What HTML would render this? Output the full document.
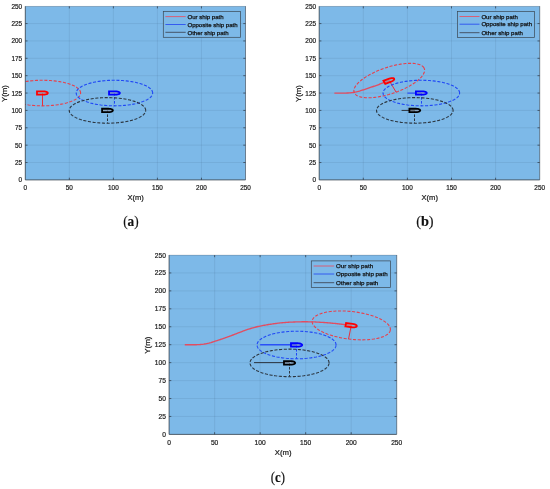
<!DOCTYPE html>
<html><head><meta charset="utf-8"><title>Ship paths</title>
<style>
html,body{margin:0;padding:0;background:#fff}
svg{display:block}
.grid{stroke:#2d4a66;stroke-opacity:.18;stroke-width:.6}
.tick{stroke:#2a3440;stroke-width:.7}
.bd{stroke:#303c48;stroke-width:.8}
.bdt{stroke:#5a6a78;stroke-width:.6;stroke-opacity:.6}
.bdr{stroke:#2a3440;stroke-width:.7;stroke-opacity:.8}
.tl{font-family:"Liberation Sans",sans-serif;font-size:6.3px;fill:#1a1a1a;stroke:#1a1a1a;stroke-width:.2}
.al{font-family:"Liberation Sans",sans-serif;font-size:7.6px;fill:#1a1a1a;stroke:#1a1a1a;stroke-width:.22}
.lg{font-family:"Liberation Sans",sans-serif;fill:#111;stroke:#111;stroke-width:.25}
.cap{font-family:"Liberation Serif",serif;font-size:13.3px;fill:#111;stroke:#111;stroke-width:.15}
</style></head><body>
<svg width="550" height="489" viewBox="0 0 550 489">
<rect width="550" height="489" fill="#fff"/>
<rect x="25.30" y="6.20" width="220.20" height="173.70" fill="#7db9e8"/>
<line x1="25.30" y1="162.53" x2="245.50" y2="162.53" class="grid"/>
<line x1="69.34" y1="6.20" x2="69.34" y2="179.90" class="grid"/>
<line x1="25.30" y1="145.16" x2="245.50" y2="145.16" class="grid"/>
<line x1="25.30" y1="127.79" x2="245.50" y2="127.79" class="grid"/>
<line x1="113.38" y1="6.20" x2="113.38" y2="179.90" class="grid"/>
<line x1="25.30" y1="110.42" x2="245.50" y2="110.42" class="grid"/>
<line x1="25.30" y1="93.05" x2="245.50" y2="93.05" class="grid"/>
<line x1="157.42" y1="6.20" x2="157.42" y2="179.90" class="grid"/>
<line x1="25.30" y1="75.68" x2="245.50" y2="75.68" class="grid"/>
<line x1="25.30" y1="58.31" x2="245.50" y2="58.31" class="grid"/>
<line x1="201.46" y1="6.20" x2="201.46" y2="179.90" class="grid"/>
<line x1="25.30" y1="40.94" x2="245.50" y2="40.94" class="grid"/>
<line x1="25.30" y1="23.57" x2="245.50" y2="23.57" class="grid"/>
<text x="22.10" y="182.40" class="tl" style="font-size:6.4px" text-anchor="end">0</text>
<line x1="25.30" y1="162.53" x2="27.50" y2="162.53" class="tick"/>
<line x1="245.50" y1="162.53" x2="243.30" y2="162.53" class="tick"/>
<text x="22.10" y="165.03" class="tl" style="font-size:6.4px" text-anchor="end">25</text>
<line x1="25.30" y1="145.16" x2="27.50" y2="145.16" class="tick"/>
<line x1="245.50" y1="145.16" x2="243.30" y2="145.16" class="tick"/>
<text x="22.10" y="147.66" class="tl" style="font-size:6.4px" text-anchor="end">50</text>
<line x1="25.30" y1="127.79" x2="27.50" y2="127.79" class="tick"/>
<line x1="245.50" y1="127.79" x2="243.30" y2="127.79" class="tick"/>
<text x="22.10" y="130.29" class="tl" style="font-size:6.4px" text-anchor="end">75</text>
<line x1="25.30" y1="110.42" x2="27.50" y2="110.42" class="tick"/>
<line x1="245.50" y1="110.42" x2="243.30" y2="110.42" class="tick"/>
<text x="22.10" y="112.92" class="tl" style="font-size:6.4px" text-anchor="end">100</text>
<line x1="25.30" y1="93.05" x2="27.50" y2="93.05" class="tick"/>
<line x1="245.50" y1="93.05" x2="243.30" y2="93.05" class="tick"/>
<text x="22.10" y="95.55" class="tl" style="font-size:6.4px" text-anchor="end">125</text>
<line x1="25.30" y1="75.68" x2="27.50" y2="75.68" class="tick"/>
<line x1="245.50" y1="75.68" x2="243.30" y2="75.68" class="tick"/>
<text x="22.10" y="78.18" class="tl" style="font-size:6.4px" text-anchor="end">150</text>
<line x1="25.30" y1="58.31" x2="27.50" y2="58.31" class="tick"/>
<line x1="245.50" y1="58.31" x2="243.30" y2="58.31" class="tick"/>
<text x="22.10" y="60.81" class="tl" style="font-size:6.4px" text-anchor="end">175</text>
<line x1="25.30" y1="40.94" x2="27.50" y2="40.94" class="tick"/>
<line x1="245.50" y1="40.94" x2="243.30" y2="40.94" class="tick"/>
<text x="22.10" y="43.44" class="tl" style="font-size:6.4px" text-anchor="end">200</text>
<line x1="25.30" y1="23.57" x2="27.50" y2="23.57" class="tick"/>
<line x1="245.50" y1="23.57" x2="243.30" y2="23.57" class="tick"/>
<text x="22.10" y="26.07" class="tl" style="font-size:6.4px" text-anchor="end">225</text>
<text x="22.10" y="8.70" class="tl" style="font-size:6.4px" text-anchor="end">250</text>
<text x="25.30" y="190.20" class="tl" style="font-size:6.4px" text-anchor="middle">0</text>
<line x1="69.34" y1="179.90" x2="69.34" y2="177.70" class="tick"/>
<line x1="69.34" y1="6.20" x2="69.34" y2="8.40" class="tick"/>
<text x="69.34" y="190.20" class="tl" style="font-size:6.4px" text-anchor="middle">50</text>
<line x1="113.38" y1="179.90" x2="113.38" y2="177.70" class="tick"/>
<line x1="113.38" y1="6.20" x2="113.38" y2="8.40" class="tick"/>
<text x="113.38" y="190.20" class="tl" style="font-size:6.4px" text-anchor="middle">100</text>
<line x1="157.42" y1="179.90" x2="157.42" y2="177.70" class="tick"/>
<line x1="157.42" y1="6.20" x2="157.42" y2="8.40" class="tick"/>
<text x="157.42" y="190.20" class="tl" style="font-size:6.4px" text-anchor="middle">150</text>
<line x1="201.46" y1="179.90" x2="201.46" y2="177.70" class="tick"/>
<line x1="201.46" y1="6.20" x2="201.46" y2="8.40" class="tick"/>
<text x="201.46" y="190.20" class="tl" style="font-size:6.4px" text-anchor="middle">200</text>
<text x="245.50" y="190.20" class="tl" style="font-size:6.4px" text-anchor="middle">250</text>
<clipPath id="ca"><rect x="25.30" y="6.20" width="220.20" height="173.70"/></clipPath>
<g clip-path="url(#ca)">
<path d="M80.61,93.05 L80.56,92.38 L80.40,91.71 L80.14,91.05 L79.78,90.39 L79.31,89.74 L78.74,89.10 L78.08,88.47 L77.31,87.85 L76.45,87.25 L75.49,86.66 L74.45,86.09 L73.31,85.54 L72.10,85.00 L70.80,84.50 L69.42,84.01 L67.97,83.55 L66.44,83.11 L64.86,82.71 L63.21,82.33 L61.50,81.98 L59.74,81.66 L57.94,81.37 L56.09,81.11 L54.20,80.89 L52.28,80.70 L50.34,80.55 L48.37,80.42 L46.38,80.34 L44.39,80.28 L42.39,80.27 L40.39,80.28 L38.39,80.34 L36.41,80.42 L34.44,80.55 L32.49,80.70 L30.57,80.89 L28.69,81.11 L26.84,81.37 L25.03,81.66 L23.27,81.98 L21.57,82.33 L19.92,82.71 L18.33,83.11 L16.81,83.55 L15.36,84.01 L13.98,84.50 L12.68,85.00 L11.46,85.54 L10.33,86.09 L9.28,86.66 L8.33,87.25 L7.47,87.85 L6.70,88.47 L6.03,89.10 L5.46,89.74 L5.00,90.39 L4.63,91.05 L4.37,91.71 L4.21,92.38 L4.16,93.05 L4.21,93.72 L4.37,94.39 L4.63,95.05 L5.00,95.71 L5.46,96.36 L6.03,97.00 L6.70,97.63 L7.47,98.25 L8.33,98.85 L9.28,99.44 L10.33,100.01 L11.46,100.56 L12.68,101.10 L13.98,101.60 L15.36,102.09 L16.81,102.55 L18.33,102.99 L19.92,103.39 L21.57,103.77 L23.27,104.12 L25.03,104.44 L26.84,104.73 L28.69,104.99 L30.57,105.21 L32.49,105.40 L34.44,105.55 L36.41,105.68 L38.39,105.76 L40.39,105.82 L42.39,105.83 L44.39,105.82 L46.38,105.76 L48.37,105.68 L50.34,105.55 L52.28,105.40 L54.20,105.21 L56.09,104.99 L57.94,104.73 L59.74,104.44 L61.50,104.12 L63.21,103.77 L64.86,103.39 L66.44,102.99 L67.97,102.55 L69.42,102.09 L70.80,101.60 L72.10,101.10 L73.31,100.56 L74.45,100.01 L75.49,99.44 L76.45,98.85 L77.31,98.25 L78.08,97.63 L78.74,97.00 L79.31,96.36 L79.78,95.71 L80.14,95.05 L80.40,94.39 L80.56,93.72 L80.61,93.05" fill="none" stroke="#e6404c" stroke-width="1.1" stroke-dasharray="3.1 1.6"/>
<line x1="42.50" y1="93.05" x2="42.50" y2="105.83" stroke="#e8303a" stroke-width="1.0"/>
<path d="M36.99,94.72 L43.47,94.72 L43.47,94.72 L44.59,94.66 L45.63,94.49 L46.52,94.23 L47.21,93.88 L47.64,93.48 L47.79,93.05 L47.64,92.62 L47.21,92.22 L46.52,91.87 L45.63,91.61 L44.59,91.44 L43.47,91.38 L36.99,91.38Z" fill="#9aa4b4" fill-opacity="0.55" stroke="#ff0000" stroke-width="1.8" stroke-linejoin="miter"/>
<path d="M152.66,93.05 L152.61,92.38 L152.45,91.71 L152.19,91.05 L151.83,90.39 L151.36,89.74 L150.79,89.10 L150.12,88.47 L149.36,87.85 L148.50,87.25 L147.54,86.66 L146.50,86.09 L145.36,85.54 L144.14,85.00 L142.84,84.50 L141.47,84.01 L140.02,83.55 L138.49,83.11 L136.91,82.71 L135.26,82.33 L133.55,81.98 L131.79,81.66 L129.99,81.37 L128.14,81.11 L126.25,80.89 L124.33,80.70 L122.38,80.55 L120.42,80.42 L118.43,80.34 L116.44,80.28 L114.44,80.27 L112.44,80.28 L110.44,80.34 L108.46,80.42 L106.49,80.55 L104.54,80.70 L102.62,80.89 L100.74,81.11 L98.89,81.37 L97.08,81.66 L95.32,81.98 L93.62,82.33 L91.97,82.71 L90.38,83.11 L88.86,83.55 L87.41,84.01 L86.03,84.50 L84.73,85.00 L83.51,85.54 L82.38,86.09 L81.33,86.66 L80.38,87.25 L79.52,87.85 L78.75,88.47 L78.08,89.10 L77.51,89.74 L77.05,90.39 L76.68,91.05 L76.42,91.71 L76.26,92.38 L76.21,93.05 L76.26,93.72 L76.42,94.39 L76.68,95.05 L77.05,95.71 L77.51,96.36 L78.08,97.00 L78.75,97.63 L79.52,98.25 L80.38,98.85 L81.33,99.44 L82.38,100.01 L83.51,100.56 L84.73,101.10 L86.03,101.60 L87.41,102.09 L88.86,102.55 L90.38,102.99 L91.97,103.39 L93.62,103.77 L95.32,104.12 L97.08,104.44 L98.89,104.73 L100.74,104.99 L102.62,105.21 L104.54,105.40 L106.49,105.55 L108.46,105.68 L110.44,105.76 L112.44,105.82 L114.44,105.83 L116.44,105.82 L118.43,105.76 L120.42,105.68 L122.38,105.55 L124.33,105.40 L126.25,105.21 L128.14,104.99 L129.99,104.73 L131.79,104.44 L133.55,104.12 L135.26,103.77 L136.91,103.39 L138.49,102.99 L140.02,102.55 L141.47,102.09 L142.84,101.60 L144.14,101.10 L145.36,100.56 L146.50,100.01 L147.54,99.44 L148.50,98.85 L149.36,98.25 L150.12,97.63 L150.79,97.00 L151.36,96.36 L151.83,95.71 L152.19,95.05 L152.45,94.39 L152.61,93.72 L152.66,93.05" fill="none" stroke="#2048f5" stroke-width="1.1" stroke-dasharray="3.1 1.6"/>
<line x1="114.50" y1="93.05" x2="114.50" y2="105.83" stroke="#2048f5" stroke-width="1.0" stroke-dasharray="2.6 1.4"/>
<path d="M109.04,94.72 L115.52,94.72 L115.52,94.72 L116.63,94.66 L117.68,94.49 L118.57,94.23 L119.26,93.88 L119.69,93.48 L119.84,93.05 L119.69,92.62 L119.26,92.22 L118.57,91.87 L117.68,91.61 L116.63,91.44 L115.52,91.38 L109.04,91.38Z" fill="#9aa4b4" fill-opacity="0.55" stroke="#0000ff" stroke-width="1.8" stroke-linejoin="miter"/>
<path d="M145.71,110.42 L145.65,109.75 L145.50,109.08 L145.23,108.42 L144.87,107.76 L144.40,107.11 L143.83,106.47 L143.17,105.84 L142.40,105.22 L141.54,104.62 L140.58,104.03 L139.54,103.46 L138.40,102.91 L137.19,102.37 L135.89,101.87 L134.51,101.38 L133.06,100.92 L131.54,100.48 L129.95,100.08 L128.30,99.70 L126.59,99.35 L124.83,99.03 L123.03,98.74 L121.18,98.48 L119.29,98.26 L117.37,98.07 L115.43,97.92 L113.46,97.79 L111.47,97.71 L109.48,97.65 L107.48,97.64 L105.48,97.65 L103.48,97.71 L101.50,97.79 L99.53,97.92 L97.58,98.07 L95.67,98.26 L93.78,98.48 L91.93,98.74 L90.12,99.03 L88.37,99.35 L86.66,99.70 L85.01,100.08 L83.42,100.48 L81.90,100.92 L80.45,101.38 L79.07,101.87 L77.77,102.37 L76.55,102.91 L75.42,103.46 L74.37,104.03 L73.42,104.62 L72.56,105.22 L71.79,105.84 L71.12,106.47 L70.55,107.11 L70.09,107.76 L69.72,108.42 L69.46,109.08 L69.30,109.75 L69.25,110.42 L69.30,111.09 L69.46,111.76 L69.72,112.42 L70.09,113.08 L70.55,113.73 L71.12,114.37 L71.79,115.00 L72.56,115.62 L73.42,116.22 L74.37,116.81 L75.42,117.38 L76.55,117.93 L77.77,118.47 L79.07,118.97 L80.45,119.46 L81.90,119.92 L83.42,120.36 L85.01,120.76 L86.66,121.14 L88.37,121.49 L90.12,121.81 L91.93,122.10 L93.78,122.36 L95.67,122.58 L97.58,122.77 L99.53,122.92 L101.50,123.05 L103.48,123.13 L105.48,123.19 L107.48,123.20 L109.48,123.19 L111.47,123.13 L113.46,123.05 L115.43,122.92 L117.37,122.77 L119.29,122.58 L121.18,122.36 L123.03,122.10 L124.83,121.81 L126.59,121.49 L128.30,121.14 L129.95,120.76 L131.54,120.36 L133.06,119.92 L134.51,119.46 L135.89,118.97 L137.19,118.47 L138.40,117.93 L139.54,117.38 L140.58,116.81 L141.54,116.22 L142.40,115.62 L143.17,115.00 L143.83,114.37 L144.40,113.73 L144.87,113.08 L145.23,112.42 L145.50,111.76 L145.65,111.09 L145.71,110.42" fill="none" stroke="#2c3640" stroke-width="1.1" stroke-dasharray="3.1 1.6"/>
<line x1="107.50" y1="110.42" x2="107.50" y2="123.20" stroke="#2c3640" stroke-width="1.0" stroke-dasharray="2.6 1.4"/>
<path d="M102.08,112.09 L108.56,112.09 L108.56,112.09 L109.68,112.03 L110.72,111.86 L111.61,111.60 L112.30,111.25 L112.73,110.85 L112.88,110.42 L112.73,109.99 L112.30,109.59 L111.61,109.24 L110.72,108.98 L109.68,108.81 L108.56,108.75 L102.08,108.75Z" fill="#9aa4b4" fill-opacity="0.55" stroke="#000000" stroke-width="1.8" stroke-linejoin="miter"/>
</g>
<path d="M25.30,6.20 V179.90 H245.50" fill="none" class="bd"/>
<path d="M25.30,6.45 H245.50" fill="none" class="bdt"/>
<path d="M245.50,6.20 V179.90" fill="none" class="bdr"/>
<rect x="163.30" y="11.60" width="77.20" height="25.70" fill="#7db9e8" stroke="#3a4652" stroke-width="0.7"/>
<line x1="165.40" y1="16.60" x2="185.70" y2="16.60" stroke="#e0566a" stroke-width="0.9"/>
<text x="187.50" y="18.80" class="lg" style="font-size:6.0px">Our ship path</text>
<line x1="165.40" y1="24.50" x2="185.70" y2="24.50" stroke="#2b50f0" stroke-width="0.9"/>
<text x="187.50" y="26.70" class="lg" style="font-size:6.0px">Opposite ship path</text>
<line x1="165.40" y1="32.30" x2="185.70" y2="32.30" stroke="#3f4a58" stroke-width="0.9"/>
<text x="187.50" y="34.50" class="lg" style="font-size:6.0px">Other ship path</text>
<text transform="translate(135.70,199.80) scale(0.97,1)" class="al" style="font-size:7.8px" text-anchor="middle">X(m)</text>
<text transform="translate(6.90,93.55) rotate(-90)" class="al" style="font-size:7.8px" text-anchor="middle">Y(m)</text>
<text transform="translate(130.90,226.20) scale(0.9493,1)" class="cap" style="font-size:14px" text-anchor="middle">(<tspan font-weight="bold">a</tspan>)</text>
<rect x="319.20" y="6.20" width="220.50" height="173.70" fill="#7db9e8"/>
<line x1="319.20" y1="162.53" x2="539.70" y2="162.53" class="grid"/>
<line x1="363.30" y1="6.20" x2="363.30" y2="179.90" class="grid"/>
<line x1="319.20" y1="145.16" x2="539.70" y2="145.16" class="grid"/>
<line x1="319.20" y1="127.79" x2="539.70" y2="127.79" class="grid"/>
<line x1="407.40" y1="6.20" x2="407.40" y2="179.90" class="grid"/>
<line x1="319.20" y1="110.42" x2="539.70" y2="110.42" class="grid"/>
<line x1="319.20" y1="93.05" x2="539.70" y2="93.05" class="grid"/>
<line x1="451.50" y1="6.20" x2="451.50" y2="179.90" class="grid"/>
<line x1="319.20" y1="75.68" x2="539.70" y2="75.68" class="grid"/>
<line x1="319.20" y1="58.31" x2="539.70" y2="58.31" class="grid"/>
<line x1="495.60" y1="6.20" x2="495.60" y2="179.90" class="grid"/>
<line x1="319.20" y1="40.94" x2="539.70" y2="40.94" class="grid"/>
<line x1="319.20" y1="23.57" x2="539.70" y2="23.57" class="grid"/>
<text x="316.00" y="182.40" class="tl" style="font-size:6.4px" text-anchor="end">0</text>
<line x1="319.20" y1="162.53" x2="321.40" y2="162.53" class="tick"/>
<line x1="539.70" y1="162.53" x2="537.50" y2="162.53" class="tick"/>
<text x="316.00" y="165.03" class="tl" style="font-size:6.4px" text-anchor="end">25</text>
<line x1="319.20" y1="145.16" x2="321.40" y2="145.16" class="tick"/>
<line x1="539.70" y1="145.16" x2="537.50" y2="145.16" class="tick"/>
<text x="316.00" y="147.66" class="tl" style="font-size:6.4px" text-anchor="end">50</text>
<line x1="319.20" y1="127.79" x2="321.40" y2="127.79" class="tick"/>
<line x1="539.70" y1="127.79" x2="537.50" y2="127.79" class="tick"/>
<text x="316.00" y="130.29" class="tl" style="font-size:6.4px" text-anchor="end">75</text>
<line x1="319.20" y1="110.42" x2="321.40" y2="110.42" class="tick"/>
<line x1="539.70" y1="110.42" x2="537.50" y2="110.42" class="tick"/>
<text x="316.00" y="112.92" class="tl" style="font-size:6.4px" text-anchor="end">100</text>
<line x1="319.20" y1="93.05" x2="321.40" y2="93.05" class="tick"/>
<line x1="539.70" y1="93.05" x2="537.50" y2="93.05" class="tick"/>
<text x="316.00" y="95.55" class="tl" style="font-size:6.4px" text-anchor="end">125</text>
<line x1="319.20" y1="75.68" x2="321.40" y2="75.68" class="tick"/>
<line x1="539.70" y1="75.68" x2="537.50" y2="75.68" class="tick"/>
<text x="316.00" y="78.18" class="tl" style="font-size:6.4px" text-anchor="end">150</text>
<line x1="319.20" y1="58.31" x2="321.40" y2="58.31" class="tick"/>
<line x1="539.70" y1="58.31" x2="537.50" y2="58.31" class="tick"/>
<text x="316.00" y="60.81" class="tl" style="font-size:6.4px" text-anchor="end">175</text>
<line x1="319.20" y1="40.94" x2="321.40" y2="40.94" class="tick"/>
<line x1="539.70" y1="40.94" x2="537.50" y2="40.94" class="tick"/>
<text x="316.00" y="43.44" class="tl" style="font-size:6.4px" text-anchor="end">200</text>
<line x1="319.20" y1="23.57" x2="321.40" y2="23.57" class="tick"/>
<line x1="539.70" y1="23.57" x2="537.50" y2="23.57" class="tick"/>
<text x="316.00" y="26.07" class="tl" style="font-size:6.4px" text-anchor="end">225</text>
<text x="316.00" y="8.70" class="tl" style="font-size:6.4px" text-anchor="end">250</text>
<text x="319.20" y="190.20" class="tl" style="font-size:6.4px" text-anchor="middle">0</text>
<line x1="363.30" y1="179.90" x2="363.30" y2="177.70" class="tick"/>
<line x1="363.30" y1="6.20" x2="363.30" y2="8.40" class="tick"/>
<text x="363.30" y="190.20" class="tl" style="font-size:6.4px" text-anchor="middle">50</text>
<line x1="407.40" y1="179.90" x2="407.40" y2="177.70" class="tick"/>
<line x1="407.40" y1="6.20" x2="407.40" y2="8.40" class="tick"/>
<text x="407.40" y="190.20" class="tl" style="font-size:6.4px" text-anchor="middle">100</text>
<line x1="451.50" y1="179.90" x2="451.50" y2="177.70" class="tick"/>
<line x1="451.50" y1="6.20" x2="451.50" y2="8.40" class="tick"/>
<text x="451.50" y="190.20" class="tl" style="font-size:6.4px" text-anchor="middle">150</text>
<line x1="495.60" y1="179.90" x2="495.60" y2="177.70" class="tick"/>
<line x1="495.60" y1="6.20" x2="495.60" y2="8.40" class="tick"/>
<text x="495.60" y="190.20" class="tl" style="font-size:6.4px" text-anchor="middle">200</text>
<text x="539.70" y="190.20" class="tl" style="font-size:6.4px" text-anchor="middle">250</text>
<clipPath id="cb"><rect x="319.20" y="6.20" width="220.50" height="173.70"/></clipPath>
<g clip-path="url(#cb)">
<path d="M334.37,93.05 L335.06,93.05 L335.76,93.05 L336.45,93.05 L337.15,93.05 L337.84,93.05 L338.54,93.05 L339.23,93.05 L339.93,93.05 L340.62,93.05 L341.31,93.05 L342.01,93.05 L342.70,93.05 L343.40,93.05 L344.09,93.05 L344.79,93.05 L345.48,93.05 L346.18,93.05 L346.87,93.03 L347.56,93.01 L348.26,92.98 L348.95,92.94 L349.65,92.89 L350.34,92.82 L351.04,92.75 L351.73,92.67 L352.43,92.57 L353.12,92.47 L353.81,92.36 L354.51,92.23 L355.20,92.10 L355.90,91.96 L356.59,91.80 L357.29,91.64 L357.98,91.47 L358.68,91.28 L359.37,91.09 L360.06,90.89 L360.76,90.67 L361.45,90.45 L362.15,90.23 L362.84,90.00 L363.54,89.77 L364.23,89.53 L364.93,89.30 L365.62,89.07 L366.31,88.84 L367.01,88.62 L367.70,88.39 L368.40,88.16 L369.09,87.93 L369.79,87.69 L370.48,87.46 L371.18,87.22 L371.87,86.98 L372.56,86.74 L373.26,86.50 L373.95,86.26 L374.65,86.02 L375.34,85.77 L376.04,85.52 L376.73,85.27 L377.43,85.02 L378.12,84.77 L378.81,84.51 L379.51,84.25 L380.20,83.98 L380.90,83.72 L381.59,83.45 L382.29,83.18 L382.98,82.91 L383.68,82.65 L384.37,82.38 L385.06,82.11 L385.76,81.85 L386.45,81.58 L387.15,81.31 L387.84,81.04 L388.54,80.76 L389.23,80.49" fill="none" stroke="#e24c60" stroke-width="1.35"/>
<path d="M407.40,93.05 L420.98,93.05" fill="none" stroke="#2b50f8" stroke-width="1.3"/>
<path d="M401.58,110.42 L414.81,110.42" fill="none" stroke="#2a323c" stroke-width="1.0"/>
<path d="M423.92,67.80 L423.52,67.21 L423.02,66.66 L422.42,66.14 L421.74,65.67 L420.97,65.24 L420.11,64.84 L419.16,64.49 L418.13,64.19 L417.03,63.93 L415.85,63.71 L414.59,63.55 L413.27,63.42 L411.88,63.35 L410.42,63.32 L408.91,63.34 L407.35,63.41 L405.73,63.52 L404.07,63.68 L402.37,63.89 L400.64,64.14 L398.87,64.43 L397.08,64.78 L395.26,65.16 L393.43,65.59 L391.58,66.05 L389.74,66.56 L387.88,67.11 L386.04,67.69 L384.20,68.31 L382.37,68.96 L380.57,69.64 L378.78,70.35 L377.03,71.09 L375.31,71.86 L373.63,72.65 L371.99,73.46 L370.40,74.29 L368.85,75.14 L367.37,76.01 L365.94,76.88 L364.58,77.77 L363.29,78.66 L362.07,79.56 L360.92,80.46 L359.85,81.36 L358.86,82.26 L357.95,83.16 L357.13,84.04 L356.40,84.92 L355.76,85.79 L355.21,86.64 L354.75,87.47 L354.38,88.29 L354.12,89.08 L353.95,89.85 L353.87,90.60 L353.89,91.32 L354.01,92.01 L354.23,92.66 L354.54,93.29 L354.94,93.88 L355.45,94.43 L356.04,94.94 L356.72,95.42 L357.50,95.85 L358.36,96.24 L359.30,96.59 L360.33,96.90 L361.43,97.16 L362.62,97.37 L363.87,97.54 L365.20,97.66 L366.59,97.74 L368.04,97.77 L369.55,97.75 L371.11,97.68 L372.73,97.57 L374.39,97.41 L376.09,97.20 L377.82,96.95 L379.59,96.65 L381.39,96.31 L383.20,95.93 L385.03,95.50 L386.88,95.03 L388.73,94.53 L390.58,93.98 L392.43,93.40 L394.26,92.78 L396.09,92.13 L397.90,91.45 L399.68,90.73 L401.43,89.99 L403.15,89.23 L404.83,88.44 L406.47,87.63 L408.07,86.79 L409.61,85.95 L411.09,85.08 L412.52,84.21 L413.88,83.32 L415.17,82.43 L416.39,81.53 L417.54,80.63 L418.61,79.73 L419.60,78.83 L420.51,77.93 L421.33,77.04 L422.06,76.17 L422.70,75.30 L423.26,74.45 L423.71,73.61 L424.08,72.80 L424.34,72.00 L424.52,71.23 L424.59,70.49 L424.57,69.77 L424.45,69.08 L424.23,68.42 L423.92,67.80" fill="none" stroke="#e6404c" stroke-width="1.1" stroke-dasharray="3.1 1.6"/>
<line x1="389.23" y1="80.54" x2="396.09" y2="92.13" stroke="#e8303a" stroke-width="1.0"/>
<path d="M385.23,83.85 L391.11,81.69 L391.11,81.69 L392.09,81.27 L392.95,80.77 L393.62,80.23 L394.05,79.69 L394.23,79.18 L394.13,78.74 L393.77,78.40 L393.16,78.18 L392.35,78.10 L391.40,78.15 L390.36,78.35 L389.32,78.67 L383.44,80.83Z" fill="#9aa4b4" fill-opacity="0.55" stroke="#ff0000" stroke-width="1.8" stroke-linejoin="miter"/>
<path d="M459.61,93.05 L459.56,92.38 L459.40,91.71 L459.14,91.05 L458.78,90.39 L458.31,89.74 L457.74,89.10 L457.07,88.47 L456.31,87.85 L455.44,87.25 L454.49,86.66 L453.44,86.09 L452.30,85.54 L451.08,85.00 L449.78,84.50 L448.40,84.01 L446.95,83.55 L445.43,83.11 L443.84,82.71 L442.18,82.33 L440.48,81.98 L438.71,81.66 L436.90,81.37 L435.05,81.11 L433.16,80.89 L431.24,80.70 L429.29,80.55 L427.32,80.42 L425.34,80.34 L423.34,80.28 L421.34,80.27 L419.33,80.28 L417.33,80.34 L415.35,80.42 L413.38,80.55 L411.43,80.70 L409.51,80.89 L407.62,81.11 L405.77,81.37 L403.96,81.66 L402.20,81.98 L400.49,82.33 L398.84,82.71 L397.25,83.11 L395.72,83.55 L394.27,84.01 L392.89,84.50 L391.59,85.00 L390.37,85.54 L389.23,86.09 L388.19,86.66 L387.23,87.25 L386.37,87.85 L385.60,88.47 L384.93,89.10 L384.36,89.74 L383.89,90.39 L383.53,91.05 L383.27,91.71 L383.11,92.38 L383.06,93.05 L383.11,93.72 L383.27,94.39 L383.53,95.05 L383.89,95.71 L384.36,96.36 L384.93,97.00 L385.60,97.63 L386.37,98.25 L387.23,98.85 L388.19,99.44 L389.23,100.01 L390.37,100.56 L391.59,101.10 L392.89,101.60 L394.27,102.09 L395.72,102.55 L397.25,102.99 L398.84,103.39 L400.49,103.77 L402.20,104.12 L403.96,104.44 L405.77,104.73 L407.62,104.99 L409.51,105.21 L411.43,105.40 L413.38,105.55 L415.35,105.68 L417.33,105.76 L419.33,105.82 L421.34,105.83 L423.34,105.82 L425.34,105.76 L427.32,105.68 L429.29,105.55 L431.24,105.40 L433.16,105.21 L435.05,104.99 L436.90,104.73 L438.71,104.44 L440.48,104.12 L442.18,103.77 L443.84,103.39 L445.43,102.99 L446.95,102.55 L448.40,102.09 L449.78,101.60 L451.08,101.10 L452.30,100.56 L453.44,100.01 L454.49,99.44 L455.44,98.85 L456.31,98.25 L457.07,97.63 L457.74,97.00 L458.31,96.36 L458.78,95.71 L459.14,95.05 L459.40,94.39 L459.56,93.72 L459.61,93.05" fill="none" stroke="#2048f5" stroke-width="1.1" stroke-dasharray="3.1 1.6"/>
<line x1="421.50" y1="93.05" x2="421.50" y2="105.83" stroke="#2048f5" stroke-width="1.0" stroke-dasharray="2.6 1.4"/>
<path d="M415.93,94.72 L422.42,94.72 L422.42,94.72 L423.54,94.66 L424.58,94.49 L425.48,94.23 L426.16,93.88 L426.59,93.48 L426.74,93.05 L426.59,92.62 L426.16,92.22 L425.48,91.87 L424.58,91.61 L423.54,91.44 L422.42,91.38 L415.93,91.38Z" fill="#9aa4b4" fill-opacity="0.55" stroke="#0000ff" stroke-width="1.8" stroke-linejoin="miter"/>
<path d="M453.09,110.42 L453.04,109.75 L452.88,109.08 L452.62,108.42 L452.25,107.76 L451.78,107.11 L451.21,106.47 L450.55,105.84 L449.78,105.22 L448.92,104.62 L447.96,104.03 L446.91,103.46 L445.78,102.91 L444.56,102.37 L443.26,101.87 L441.88,101.38 L440.42,100.92 L438.90,100.48 L437.31,100.08 L435.66,99.70 L433.95,99.35 L432.19,99.03 L430.38,98.74 L428.53,98.48 L426.64,98.26 L424.72,98.07 L422.77,97.92 L420.80,97.79 L418.81,97.71 L416.81,97.65 L414.81,97.64 L412.81,97.65 L410.81,97.71 L408.82,97.79 L406.85,97.92 L404.90,98.07 L402.98,98.26 L401.09,98.48 L399.24,98.74 L397.43,99.03 L395.67,99.35 L393.96,99.70 L392.31,100.08 L390.72,100.48 L389.20,100.92 L387.74,101.38 L386.36,101.87 L385.06,102.37 L383.84,102.91 L382.71,103.46 L381.66,104.03 L380.70,104.62 L379.84,105.22 L379.07,105.84 L378.40,106.47 L377.83,107.11 L377.37,107.76 L377.00,108.42 L376.74,109.08 L376.58,109.75 L376.53,110.42 L376.58,111.09 L376.74,111.76 L377.00,112.42 L377.37,113.08 L377.83,113.73 L378.40,114.37 L379.07,115.00 L379.84,115.62 L380.70,116.22 L381.66,116.81 L382.71,117.38 L383.84,117.93 L385.06,118.47 L386.36,118.97 L387.74,119.46 L389.20,119.92 L390.72,120.36 L392.31,120.76 L393.96,121.14 L395.67,121.49 L397.43,121.81 L399.24,122.10 L401.09,122.36 L402.98,122.58 L404.90,122.77 L406.85,122.92 L408.82,123.05 L410.81,123.13 L412.81,123.19 L414.81,123.20 L416.81,123.19 L418.81,123.13 L420.80,123.05 L422.77,122.92 L424.72,122.77 L426.64,122.58 L428.53,122.36 L430.38,122.10 L432.19,121.81 L433.95,121.49 L435.66,121.14 L437.31,120.76 L438.90,120.36 L440.42,119.92 L441.88,119.46 L443.26,118.97 L444.56,118.47 L445.78,117.93 L446.91,117.38 L447.96,116.81 L448.92,116.22 L449.78,115.62 L450.55,115.00 L451.21,114.37 L451.78,113.73 L452.25,113.08 L452.62,112.42 L452.88,111.76 L453.04,111.09 L453.09,110.42" fill="none" stroke="#2c3640" stroke-width="1.1" stroke-dasharray="3.1 1.6"/>
<line x1="414.50" y1="110.42" x2="414.50" y2="123.20" stroke="#2c3640" stroke-width="1.0" stroke-dasharray="2.6 1.4"/>
<path d="M409.40,112.09 L415.89,112.09 L415.89,112.09 L417.01,112.03 L418.05,111.86 L418.95,111.60 L419.64,111.25 L420.07,110.85 L420.22,110.42 L420.07,109.99 L419.64,109.59 L418.95,109.24 L418.05,108.98 L417.01,108.81 L415.89,108.75 L409.40,108.75Z" fill="#9aa4b4" fill-opacity="0.55" stroke="#000000" stroke-width="1.8" stroke-linejoin="miter"/>
</g>
<path d="M319.20,6.20 V179.90 H539.70" fill="none" class="bd"/>
<path d="M319.20,6.45 H539.70" fill="none" class="bdt"/>
<path d="M539.70,6.20 V179.90" fill="none" class="bdr"/>
<rect x="457.40" y="11.50" width="77.10" height="26.10" fill="#7db9e8" stroke="#3a4652" stroke-width="0.7"/>
<line x1="459.50" y1="16.50" x2="479.50" y2="16.50" stroke="#e0566a" stroke-width="0.9"/>
<text x="481.40" y="18.70" class="lg" style="font-size:6.08px">Our ship path</text>
<line x1="459.50" y1="24.20" x2="479.50" y2="24.20" stroke="#2b50f0" stroke-width="0.9"/>
<text x="481.40" y="26.40" class="lg" style="font-size:6.08px">Opposite ship path</text>
<line x1="459.50" y1="32.70" x2="479.50" y2="32.70" stroke="#3f4a58" stroke-width="0.9"/>
<text x="481.40" y="34.90" class="lg" style="font-size:6.08px">Other ship path</text>
<text transform="translate(429.75,200.30) scale(0.97,1)" class="al" style="font-size:7.8px" text-anchor="middle">X(m)</text>
<text transform="translate(300.90,93.55) rotate(-90)" class="al" style="font-size:7.8px" text-anchor="middle">Y(m)</text>
<text transform="translate(424.90,226.00) scale(1.0013,1)" class="cap" style="font-size:14.3px" text-anchor="middle">(<tspan font-weight="bold">b</tspan>)</text>
<rect x="169.10" y="255.00" width="227.60" height="179.40" fill="#7db9e8"/>
<line x1="169.10" y1="416.46" x2="396.70" y2="416.46" class="grid"/>
<line x1="214.62" y1="255.00" x2="214.62" y2="434.40" class="grid"/>
<line x1="169.10" y1="398.52" x2="396.70" y2="398.52" class="grid"/>
<line x1="169.10" y1="380.58" x2="396.70" y2="380.58" class="grid"/>
<line x1="260.14" y1="255.00" x2="260.14" y2="434.40" class="grid"/>
<line x1="169.10" y1="362.64" x2="396.70" y2="362.64" class="grid"/>
<line x1="169.10" y1="344.70" x2="396.70" y2="344.70" class="grid"/>
<line x1="305.66" y1="255.00" x2="305.66" y2="434.40" class="grid"/>
<line x1="169.10" y1="326.76" x2="396.70" y2="326.76" class="grid"/>
<line x1="169.10" y1="308.82" x2="396.70" y2="308.82" class="grid"/>
<line x1="351.18" y1="255.00" x2="351.18" y2="434.40" class="grid"/>
<line x1="169.10" y1="290.88" x2="396.70" y2="290.88" class="grid"/>
<line x1="169.10" y1="272.94" x2="396.70" y2="272.94" class="grid"/>
<text x="165.90" y="436.90" class="tl" style="font-size:6.65px" text-anchor="end">0</text>
<line x1="169.10" y1="416.46" x2="171.30" y2="416.46" class="tick"/>
<line x1="396.70" y1="416.46" x2="394.50" y2="416.46" class="tick"/>
<text x="165.90" y="418.96" class="tl" style="font-size:6.65px" text-anchor="end">25</text>
<line x1="169.10" y1="398.52" x2="171.30" y2="398.52" class="tick"/>
<line x1="396.70" y1="398.52" x2="394.50" y2="398.52" class="tick"/>
<text x="165.90" y="401.02" class="tl" style="font-size:6.65px" text-anchor="end">50</text>
<line x1="169.10" y1="380.58" x2="171.30" y2="380.58" class="tick"/>
<line x1="396.70" y1="380.58" x2="394.50" y2="380.58" class="tick"/>
<text x="165.90" y="383.08" class="tl" style="font-size:6.65px" text-anchor="end">75</text>
<line x1="169.10" y1="362.64" x2="171.30" y2="362.64" class="tick"/>
<line x1="396.70" y1="362.64" x2="394.50" y2="362.64" class="tick"/>
<text x="165.90" y="365.14" class="tl" style="font-size:6.65px" text-anchor="end">100</text>
<line x1="169.10" y1="344.70" x2="171.30" y2="344.70" class="tick"/>
<line x1="396.70" y1="344.70" x2="394.50" y2="344.70" class="tick"/>
<text x="165.90" y="347.20" class="tl" style="font-size:6.65px" text-anchor="end">125</text>
<line x1="169.10" y1="326.76" x2="171.30" y2="326.76" class="tick"/>
<line x1="396.70" y1="326.76" x2="394.50" y2="326.76" class="tick"/>
<text x="165.90" y="329.26" class="tl" style="font-size:6.65px" text-anchor="end">150</text>
<line x1="169.10" y1="308.82" x2="171.30" y2="308.82" class="tick"/>
<line x1="396.70" y1="308.82" x2="394.50" y2="308.82" class="tick"/>
<text x="165.90" y="311.32" class="tl" style="font-size:6.65px" text-anchor="end">175</text>
<line x1="169.10" y1="290.88" x2="171.30" y2="290.88" class="tick"/>
<line x1="396.70" y1="290.88" x2="394.50" y2="290.88" class="tick"/>
<text x="165.90" y="293.38" class="tl" style="font-size:6.65px" text-anchor="end">200</text>
<line x1="169.10" y1="272.94" x2="171.30" y2="272.94" class="tick"/>
<line x1="396.70" y1="272.94" x2="394.50" y2="272.94" class="tick"/>
<text x="165.90" y="275.44" class="tl" style="font-size:6.65px" text-anchor="end">225</text>
<text x="165.90" y="257.50" class="tl" style="font-size:6.65px" text-anchor="end">250</text>
<text x="169.10" y="444.90" class="tl" style="font-size:6.65px" text-anchor="middle">0</text>
<line x1="214.62" y1="434.40" x2="214.62" y2="432.20" class="tick"/>
<line x1="214.62" y1="255.00" x2="214.62" y2="257.20" class="tick"/>
<text x="214.62" y="444.90" class="tl" style="font-size:6.65px" text-anchor="middle">50</text>
<line x1="260.14" y1="434.40" x2="260.14" y2="432.20" class="tick"/>
<line x1="260.14" y1="255.00" x2="260.14" y2="257.20" class="tick"/>
<text x="260.14" y="444.90" class="tl" style="font-size:6.65px" text-anchor="middle">100</text>
<line x1="305.66" y1="434.40" x2="305.66" y2="432.20" class="tick"/>
<line x1="305.66" y1="255.00" x2="305.66" y2="257.20" class="tick"/>
<text x="305.66" y="444.90" class="tl" style="font-size:6.65px" text-anchor="middle">150</text>
<line x1="351.18" y1="434.40" x2="351.18" y2="432.20" class="tick"/>
<line x1="351.18" y1="255.00" x2="351.18" y2="257.20" class="tick"/>
<text x="351.18" y="444.90" class="tl" style="font-size:6.65px" text-anchor="middle">200</text>
<text x="396.70" y="444.90" class="tl" style="font-size:6.65px" text-anchor="middle">250</text>
<clipPath id="cc"><rect x="169.10" y="255.00" width="227.60" height="179.40"/></clipPath>
<g clip-path="url(#cc)">
<path d="M184.76,344.70 L185.81,344.70 L186.85,344.70 L187.90,344.70 L188.95,344.70 L190.00,344.70 L191.04,344.70 L192.09,344.70 L193.14,344.70 L194.18,344.70 L195.23,344.70 L196.28,344.70 L197.33,344.69 L198.37,344.66 L199.42,344.61 L200.47,344.53 L201.51,344.44 L202.56,344.32 L203.61,344.18 L204.66,344.01 L205.70,343.83 L206.75,343.62 L207.80,343.39 L208.85,343.14 L209.89,342.86 L210.94,342.57 L211.99,342.25 L213.03,341.91 L214.08,341.57 L215.13,341.22 L216.18,340.87 L217.22,340.52 L218.27,340.18 L219.32,339.83 L220.37,339.49 L221.41,339.13 L222.46,338.78 L223.51,338.42 L224.55,338.06 L225.60,337.69 L226.65,337.32 L227.70,336.95 L228.74,336.58 L229.79,336.19 L230.84,335.80 L231.88,335.41 L232.93,335.00 L233.98,334.60 L235.03,334.19 L236.07,333.79 L237.12,333.39 L238.17,332.99 L239.22,332.58 L240.26,332.17 L241.31,331.76 L242.36,331.36 L243.40,330.96 L244.45,330.57 L245.50,330.20 L246.55,329.84 L247.59,329.48 L248.64,329.14 L249.69,328.80 L250.74,328.48 L251.78,328.17 L252.83,327.87 L253.88,327.58 L254.92,327.30 L255.97,327.02 L257.02,326.76 L258.07,326.52 L259.11,326.29 L260.16,326.07 L261.21,325.85 L262.26,325.65 L263.30,325.45 L264.35,325.26 L265.40,325.07 L266.44,324.89 L267.49,324.71 L268.54,324.54 L269.59,324.38 L270.63,324.22 L271.68,324.06 L272.73,323.90 L273.77,323.75 L274.82,323.60 L275.87,323.46 L276.92,323.32 L277.96,323.19 L279.01,323.07 L280.06,322.95 L281.11,322.85 L282.15,322.75 L283.20,322.65 L284.25,322.57 L285.29,322.48 L286.34,322.40 L287.39,322.33 L288.44,322.26 L289.48,322.20 L290.53,322.15 L291.58,322.10 L292.63,322.05 L293.67,322.01 L294.72,321.97 L295.77,321.93 L296.81,321.90 L297.86,321.88 L298.91,321.85 L299.96,321.83 L301.00,321.81 L302.05,321.79 L303.10,321.78 L304.14,321.77 L305.19,321.77 L306.24,321.78 L307.29,321.79 L308.33,321.80 L309.38,321.82 L310.43,321.84 L311.48,321.86 L312.52,321.88 L313.57,321.91 L314.62,321.95 L315.66,321.99 L316.71,322.05 L317.76,322.11 L318.81,322.17 L319.85,322.23 L320.90,322.30 L321.95,322.36 L323.00,322.43 L324.04,322.50 L325.09,322.58 L326.14,322.66 L327.18,322.74 L328.23,322.83 L329.28,322.92 L330.33,323.01 L331.37,323.11 L332.42,323.21 L333.47,323.32 L334.52,323.43 L335.56,323.54 L336.61,323.65 L337.66,323.77 L338.70,323.88 L339.75,324.00 L340.80,324.11 L341.85,324.22 L342.89,324.34 L343.94,324.46 L344.99,324.59 L346.03,324.71 L347.08,324.84 L348.13,324.98 L349.18,325.11 L350.22,325.25 L351.27,325.40" fill="none" stroke="#e24c60" stroke-width="1.35"/>
<path d="M260.14,344.70 L296.56,344.70" fill="none" stroke="#2b50f8" stroke-width="1.4"/>
<path d="M254.04,362.64 L289.55,362.64" fill="none" stroke="#2a323c" stroke-width="1.0"/>
<path d="M390.30,330.27 L390.39,329.55 L390.37,328.82 L390.24,328.08 L390.01,327.33 L389.67,326.58 L389.23,325.82 L388.68,325.07 L388.03,324.31 L387.28,323.56 L386.43,322.81 L385.49,322.07 L384.45,321.34 L383.32,320.62 L382.10,319.91 L380.80,319.22 L379.42,318.54 L377.96,317.89 L376.42,317.25 L374.82,316.64 L373.15,316.05 L371.42,315.48 L369.64,314.95 L367.81,314.44 L365.93,313.96 L364.01,313.51 L362.06,313.10 L360.08,312.72 L358.07,312.37 L356.04,312.06 L354.01,311.79 L351.96,311.55 L349.91,311.35 L347.87,311.19 L345.83,311.07 L343.81,310.99 L341.81,310.95 L339.84,310.95 L337.90,310.98 L335.99,311.06 L334.13,311.18 L332.31,311.33 L330.54,311.52 L328.84,311.75 L327.19,312.02 L325.61,312.33 L324.10,312.67 L322.66,313.05 L321.31,313.46 L320.03,313.90 L318.84,314.37 L317.74,314.88 L316.73,315.41 L315.82,315.97 L315.00,316.56 L314.28,317.17 L313.67,317.80 L313.15,318.46 L312.75,319.13 L312.44,319.82 L312.25,320.52 L312.16,321.24 L312.17,321.97 L312.30,322.71 L312.53,323.46 L312.87,324.21 L313.31,324.97 L313.86,325.72 L314.51,326.48 L315.26,327.23 L316.11,327.98 L317.05,328.72 L318.09,329.45 L319.22,330.17 L320.44,330.88 L321.74,331.57 L323.13,332.25 L324.59,332.91 L326.12,333.54 L327.72,334.16 L329.39,334.75 L331.12,335.31 L332.90,335.85 L334.73,336.36 L336.61,336.83 L338.53,337.28 L340.48,337.69 L342.47,338.08 L344.47,338.42 L346.50,338.73 L348.54,339.00 L350.58,339.24 L352.63,339.44 L354.68,339.60 L356.71,339.72 L358.73,339.80 L360.73,339.84 L362.70,339.85 L364.65,339.81 L366.55,339.73 L368.42,339.62 L370.23,339.46 L372.00,339.27 L373.71,339.04 L375.35,338.77 L376.93,338.46 L378.44,338.12 L379.88,337.75 L381.24,337.34 L382.51,336.89 L383.70,336.42 L384.80,335.92 L385.81,335.38 L386.72,334.82 L387.54,334.24 L388.26,333.62 L388.87,332.99 L389.39,332.34 L389.80,331.66 L390.10,330.97 L390.30,330.27" fill="none" stroke="#e6404c" stroke-width="1.1" stroke-dasharray="3.1 1.6"/>
<line x1="351.27" y1="325.40" x2="348.54" y2="339.00" stroke="#e8303a" stroke-width="1.0"/>
<path d="M345.42,326.41 L352.03,327.24 L352.03,327.24 L353.18,327.32 L354.28,327.28 L355.25,327.13 L356.02,326.86 L356.54,326.51 L356.78,326.08 L356.72,325.63 L356.36,325.16 L355.73,324.72 L354.87,324.34 L353.84,324.03 L352.72,323.83 L346.10,323.01Z" fill="#9aa4b4" fill-opacity="0.55" stroke="#ff0000" stroke-width="1.8" stroke-linejoin="miter"/>
<path d="M336.07,344.99 L336.01,344.27 L335.85,343.55 L335.58,342.83 L335.20,342.12 L334.72,341.42 L334.13,340.73 L333.44,340.05 L332.65,339.38 L331.76,338.73 L330.77,338.10 L329.69,337.48 L328.52,336.89 L327.26,336.32 L325.92,335.77 L324.49,335.24 L322.99,334.75 L321.42,334.28 L319.78,333.84 L318.08,333.43 L316.31,333.06 L314.49,332.71 L312.63,332.40 L310.72,332.12 L308.77,331.88 L306.78,331.68 L304.77,331.51 L302.74,331.38 L300.69,331.28 L298.62,331.23 L296.56,331.21 L294.49,331.23 L292.43,331.28 L290.38,331.38 L288.34,331.51 L286.33,331.68 L284.35,331.88 L282.40,332.12 L280.49,332.40 L278.62,332.71 L276.80,333.06 L275.04,333.43 L273.33,333.84 L271.69,334.28 L270.12,334.75 L268.62,335.24 L267.19,335.77 L265.85,336.32 L264.59,336.89 L263.42,337.48 L262.34,338.10 L261.35,338.73 L260.46,339.38 L259.67,340.05 L258.98,340.73 L258.39,341.42 L257.91,342.12 L257.53,342.83 L257.26,343.55 L257.10,344.27 L257.04,344.99 L257.10,345.71 L257.26,346.43 L257.53,347.14 L257.91,347.85 L258.39,348.55 L258.98,349.24 L259.67,349.92 L260.46,350.59 L261.35,351.24 L262.34,351.88 L263.42,352.49 L264.59,353.09 L265.85,353.66 L267.19,354.21 L268.62,354.73 L270.12,355.23 L271.69,355.69 L273.33,356.13 L275.04,356.54 L276.80,356.92 L278.62,357.26 L280.49,357.57 L282.40,357.85 L284.35,358.09 L286.33,358.30 L288.34,358.46 L290.38,358.60 L292.43,358.69 L294.49,358.75 L296.56,358.76 L298.62,358.75 L300.69,358.69 L302.74,358.60 L304.77,358.46 L306.78,358.30 L308.77,358.09 L310.72,357.85 L312.63,357.57 L314.49,357.26 L316.31,356.92 L318.08,356.54 L319.78,356.13 L321.42,355.69 L322.99,355.23 L324.49,354.73 L325.92,354.21 L327.26,353.66 L328.52,353.09 L329.69,352.49 L330.77,351.88 L331.76,351.24 L332.65,350.59 L333.44,349.92 L334.13,349.24 L334.72,348.55 L335.20,347.85 L335.58,347.14 L335.85,346.43 L336.01,345.71 L336.07,344.99" fill="none" stroke="#2048f5" stroke-width="1.1" stroke-dasharray="3.1 1.6"/>
<line x1="296.50" y1="344.99" x2="296.50" y2="358.76" stroke="#2048f5" stroke-width="1.0" stroke-dasharray="2.6 1.4"/>
<path d="M290.98,346.71 L297.67,346.71 L297.67,346.71 L298.83,346.65 L299.90,346.48 L300.83,346.20 L301.54,345.85 L301.98,345.43 L302.14,344.99 L301.98,344.54 L301.54,344.13 L300.83,343.77 L299.90,343.50 L298.83,343.32 L297.67,343.26 L290.98,343.26Z" fill="#9aa4b4" fill-opacity="0.55" stroke="#0000ff" stroke-width="1.8" stroke-linejoin="miter"/>
<path d="M329.06,362.93 L329.00,362.21 L328.84,361.49 L328.57,360.77 L328.19,360.06 L327.71,359.36 L327.12,358.67 L326.43,357.99 L325.64,357.32 L324.75,356.67 L323.76,356.04 L322.68,355.42 L321.51,354.83 L320.25,354.26 L318.91,353.71 L317.48,353.18 L315.98,352.69 L314.41,352.22 L312.77,351.78 L311.07,351.37 L309.30,351.00 L307.48,350.65 L305.62,350.34 L303.71,350.06 L301.76,349.82 L299.77,349.62 L297.76,349.45 L295.73,349.32 L293.68,349.22 L291.61,349.17 L289.55,349.15 L287.48,349.17 L285.42,349.22 L283.36,349.32 L281.33,349.45 L279.32,349.62 L277.34,349.82 L275.39,350.06 L273.48,350.34 L271.61,350.65 L269.79,351.00 L268.03,351.37 L266.32,351.78 L264.68,352.22 L263.11,352.69 L261.61,353.18 L260.18,353.71 L258.84,354.26 L257.58,354.83 L256.41,355.42 L255.33,356.04 L254.34,356.67 L253.45,357.32 L252.66,357.99 L251.97,358.67 L251.38,359.36 L250.90,360.06 L250.52,360.77 L250.25,361.49 L250.09,362.21 L250.03,362.93 L250.09,363.65 L250.25,364.37 L250.52,365.08 L250.90,365.79 L251.38,366.49 L251.97,367.18 L252.66,367.86 L253.45,368.53 L254.34,369.18 L255.33,369.82 L256.41,370.43 L257.58,371.03 L258.84,371.60 L260.18,372.15 L261.61,372.67 L263.11,373.17 L264.68,373.63 L266.32,374.07 L268.03,374.48 L269.79,374.86 L271.61,375.20 L273.48,375.51 L275.39,375.79 L277.34,376.03 L279.32,376.24 L281.33,376.40 L283.36,376.54 L285.42,376.63 L287.48,376.69 L289.55,376.70 L291.61,376.69 L293.68,376.63 L295.73,376.54 L297.76,376.40 L299.77,376.24 L301.76,376.03 L303.71,375.79 L305.62,375.51 L307.48,375.20 L309.30,374.86 L311.07,374.48 L312.77,374.07 L314.41,373.63 L315.98,373.17 L317.48,372.67 L318.91,372.15 L320.25,371.60 L321.51,371.03 L322.68,370.43 L323.76,369.82 L324.75,369.18 L325.64,368.53 L326.43,367.86 L327.12,367.18 L327.71,366.49 L328.19,365.79 L328.57,365.08 L328.84,364.37 L329.00,363.65 L329.06,362.93" fill="none" stroke="#2c3640" stroke-width="1.1" stroke-dasharray="3.1 1.6"/>
<line x1="289.50" y1="362.93" x2="289.50" y2="376.70" stroke="#2c3640" stroke-width="1.0" stroke-dasharray="2.6 1.4"/>
<path d="M283.97,364.65 L290.66,364.65 L290.66,364.65 L291.82,364.59 L292.89,364.42 L293.82,364.14 L294.53,363.79 L294.97,363.37 L295.13,362.93 L294.97,362.48 L294.53,362.07 L293.82,361.71 L292.89,361.44 L291.82,361.26 L290.66,361.20 L283.97,361.20Z" fill="#9aa4b4" fill-opacity="0.55" stroke="#000000" stroke-width="1.8" stroke-linejoin="miter"/>
</g>
<path d="M169.10,255.00 V434.40 H396.70" fill="none" class="bd"/>
<path d="M169.10,255.25 H396.70" fill="none" class="bdt"/>
<path d="M396.70,255.00 V434.40" fill="none" class="bdr"/>
<rect x="311.30" y="260.90" width="79.20" height="26.70" fill="#7db9e8" stroke="#3a4652" stroke-width="0.7"/>
<line x1="313.60" y1="266.00" x2="334.20" y2="266.00" stroke="#e0566a" stroke-width="0.9"/>
<text x="336.00" y="268.20" class="lg" style="font-size:6.2px">Our ship path</text>
<line x1="313.60" y1="274.00" x2="334.20" y2="274.00" stroke="#2b50f0" stroke-width="0.9"/>
<text x="336.00" y="276.20" class="lg" style="font-size:6.2px">Opposite ship path</text>
<line x1="313.60" y1="282.70" x2="334.20" y2="282.70" stroke="#3f4a58" stroke-width="0.9"/>
<text x="336.00" y="284.90" class="lg" style="font-size:6.2px">Other ship path</text>
<text transform="translate(283.20,454.90) scale(0.97,1)" class="al" style="font-size:8.0px" text-anchor="middle">X(m)</text>
<text transform="translate(150.20,345.20) rotate(-90)" class="al" style="font-size:8.0px" text-anchor="middle">Y(m)</text>
<text transform="translate(277.90,481.70) scale(0.8642,1)" class="cap" style="font-size:14.8px" text-anchor="middle">(<tspan font-weight="bold">c</tspan>)</text>
</svg>
</body></html>
